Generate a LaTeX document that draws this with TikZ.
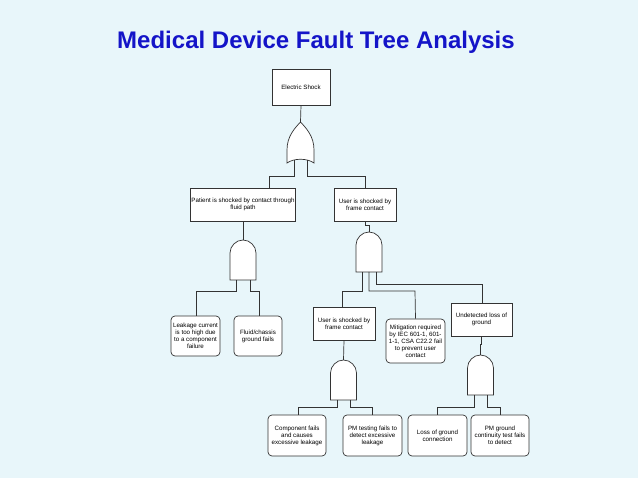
\documentclass[tikz,border=0pt]{standalone}
\usepackage{fontspec}
\setmainfont{Liberation Sans}
\begin{document}
\begin{tikzpicture}[x=1pt,y=-1pt,
  ev/.style={draw=black!80,fill=white,line width=0.7pt,inner sep=1pt,align=center,font=\fontsize{6.2}{7}\selectfont},
  bx/.style={ev},
  rb/.style={ev,rounded corners=4pt},
  gate/.style={draw=black!80,fill=white,line width=0.7pt},
  ln/.style={draw=black!80,line width=0.7pt}]
\fill[fill={rgb,255:red,232;green,246;blue,250}] (0,0) rectangle (638,478);
\useasboundingbox (0,0) rectangle (638,478);
\node[font=\fontsize{24}{26}\selectfont\bfseries,text={rgb,255:red,20;green,20;blue,200}] (title) at (316,42) {Medical Device Fault Tree Analysis};
% boxes
\node[bx,minimum width=58pt,minimum height=36pt] (top) at (301,87) {Electric Shock};
\node[bx,minimum width=104pt,minimum height=33pt] (pat) at (243,204.5) {Patient is shocked by contact through\\fluid path};
\node[bx,minimum width=62pt,minimum height=33pt] (usr) at (365,204.5) {User is shocked by\\frame contact};
\node[rb,minimum width=49pt,minimum height=40pt] (leak) at (195.5,336) {Leakage current\\is too high due\\to a component\\failure};
\node[rb,minimum width=48pt,minimum height=40pt] (fluid) at (258,336) {Fluid/chassis\\ground fails};
\node[bx,minimum width=62pt,minimum height=33pt] (usr2) at (344,323.5) {User is shocked by\\frame contact};
\node[rb,minimum width=59pt,minimum height=44pt] (mit) at (415.5,341) {Mitigation required\\by IEC 601-1, 601-\\1-1, CSA C22.2 fail\\to prevent user\\contact};
\node[bx,minimum width=61pt,minimum height=33pt] (und) at (481.5,319.5) {Undetected loss of\\ground};
\node[rb,minimum width=58pt,minimum height=41pt] (comp) at (297,435.5) {Component fails\\and causes\\excessive leakage};
\node[rb,minimum width=59pt,minimum height=41pt] (pmt) at (372.5,435.5) {PM testing fails to\\detect excessive\\leakage};
\node[rb,minimum width=59pt,minimum height=41pt] (loss) at (437.5,435.5) {Loss of ground\\connection};
\node[rb,minimum width=58pt,minimum height=41pt] (pmg) at (500,435.5) {PM ground\\continuity test fails\\to detect};
% OR gate
\coordinate (g0) at (300.5,122);
\draw[gate] (287,163) -- (287,150) .. controls (287,136) and (295,128) .. (g0) .. controls (306,128) and (314,136) .. (314,150) -- (314,163) .. controls (307,158) and (294,158) .. (287,163) -- cycle;
\draw[ln] (top.south) -- (g0);
\draw[ln] (294,160) |- (269,176) -- (pat.north -| 269,0);
\draw[ln] (307,160) |- (365,176) -- (usr.north);
\newcommand\andg[3]{% name, cx, ytop
  \coordinate (#1) at (#2,#3);
  \draw[gate] (#2-13,#3+40) -- (#2-13,#3+13) .. controls (#2-13,#3+6) and (#2-7,#3) .. (#1) .. controls (#2+7,#3) and (#2+13,#3+6) .. (#2+13,#3+13) -- (#2+13,#3+40) -- cycle;}
\andg{g1}{243}{240}
\andg{g2}{369}{232}
\andg{g3}{343.5}{360}
\andg{g4}{480.5}{355}
\draw[ln] (pat.south) -- (g1);
\draw[ln] (usr.south) -- ++(0,4) -| (g2);
\draw[ln] (usr2.south) -- (g3);
\draw[ln] (und.south) -- ++(0,8) -| (g4);
\draw[ln] (236,280) |- (196,291) -- (leak.north -| 196,0);
\draw[ln] (250,280) |- (259,291) -- (fluid.north -| 259,0);
\draw[ln] (362,272) |- (342,291) -- (usr2.north -| 342,0);
\draw[ln] (369,272) |- (415,291) -- (mit.north);
\draw[ln] (376,272) |- (482,284) -- (und.north -| 482,0);
\draw[ln] (337,400) |- (298,407) -- (comp.north -| 298,0);
\draw[ln] (350,400) |- (372,407) -- (pmt.north -| 372,0);
\draw[ln] (474,395) |- (437,407) -- (loss.north -| 437,0);
\draw[ln] (487,395) |- (500,407) -- (pmg.north);
\end{tikzpicture}
\end{document}
